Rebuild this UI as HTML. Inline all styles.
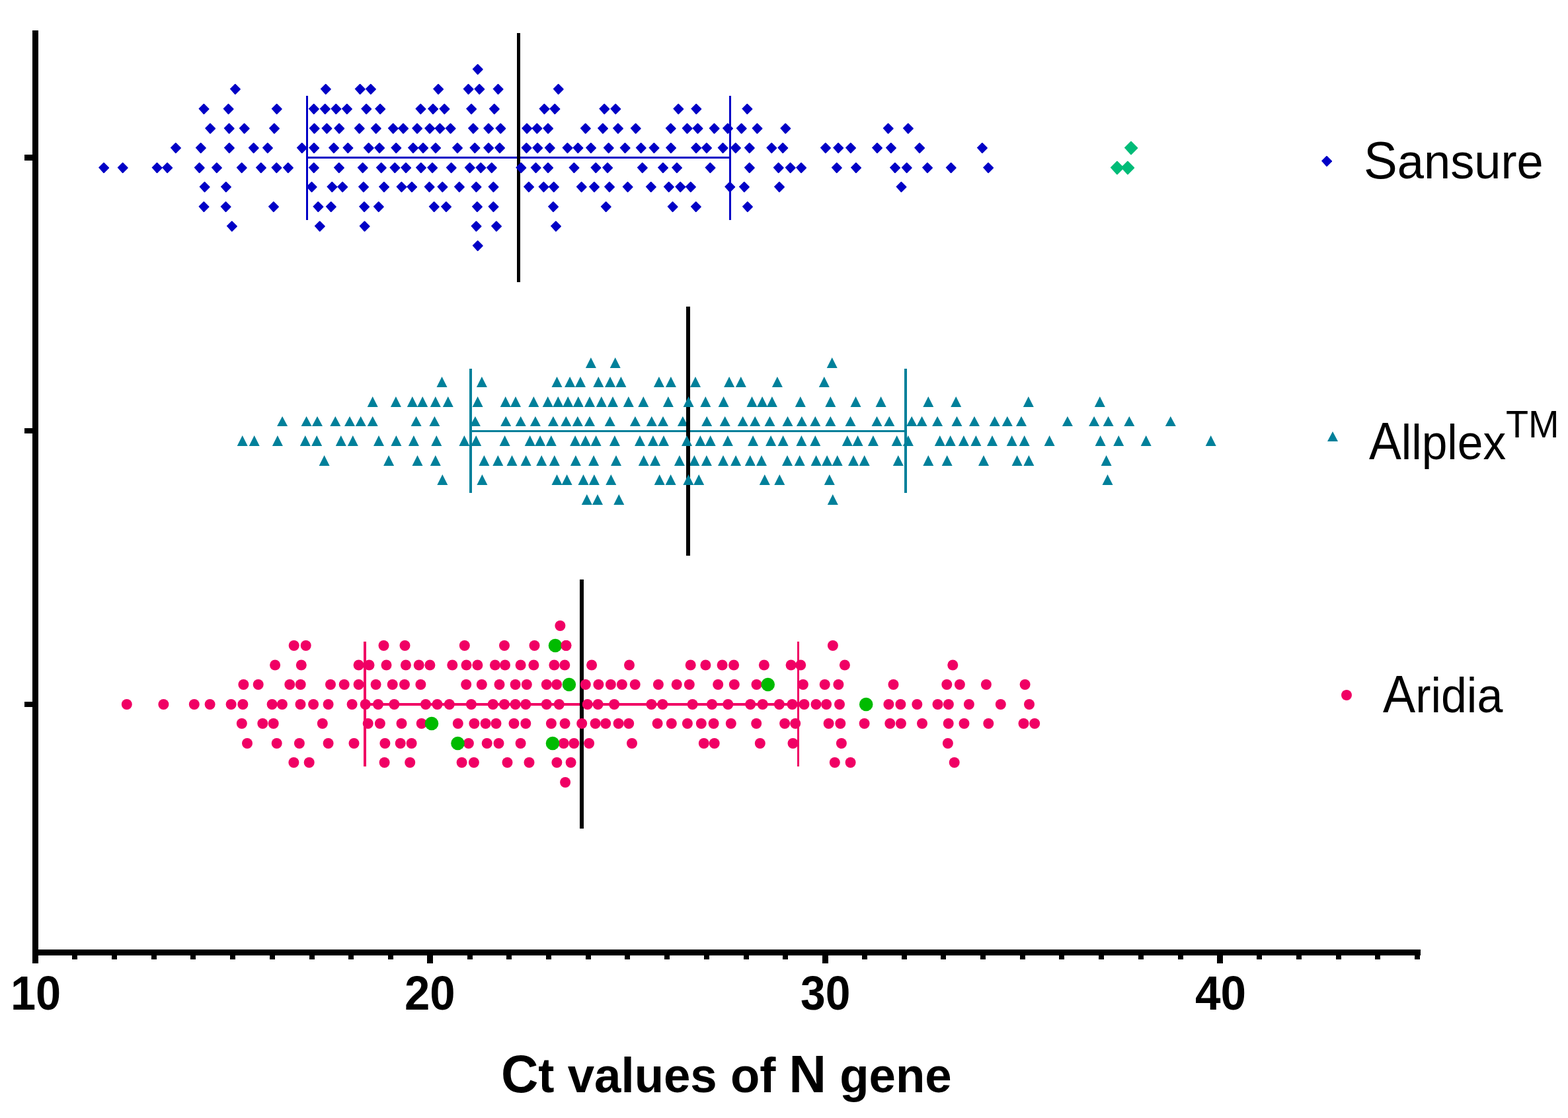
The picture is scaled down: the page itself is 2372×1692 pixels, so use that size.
<!DOCTYPE html>
<html lang="en">
<head>
<meta charset="utf-8">
<title>Ct values of N gene</title>
<style>
html,body{margin:0;padding:0;background:#fff}
body{position:relative;width:2372px;height:1692px;overflow:hidden}
svg{display:block;position:absolute;left:0;top:0}
.t{position:absolute;margin:0;white-space:pre;font-kerning:none;line-height:100px;transform-origin:0 0;color:#000;font-family:"Liberation Sans",Arial,Helvetica,sans-serif;font-weight:400}
.b{font-weight:700}
.c::first-letter,.k{font-size:79px}
</style>
</head>
<body>
<svg width="2372" height="1692" viewBox="0 0 2372 1692">
<rect width="2372" height="1692" fill="#fff"/>
<g shape-rendering="crispEdges">
<g fill="#0000C6">
<rect x="463" y="237" width="643" height="3"/>
<rect x="463" y="145" width="3" height="188"/>
<rect x="1103" y="145" width="3" height="188"/>
</g>
<g fill="#00809A">
<rect x="710" y="651" width="662" height="3"/>
<rect x="710" y="558" width="4" height="188"/>
<rect x="1368" y="558" width="4" height="188"/>
</g>
<g fill="#F00064">
<rect x="550" y="1064" width="659" height="4"/>
<rect x="550" y="971" width="4" height="189"/>
<rect x="1206" y="971" width="3" height="189"/>
</g>
</g>
<path fill="#00809A" d="M1032.9 630l8 15l-16 0zM1050.4 689l8 16l-16 0z"/>
<g shape-rendering="crispEdges" fill="#000">
<rect x="782" y="50" width="5" height="377"/>
<rect x="1038" y="464" width="6" height="377"/>
<rect x="877" y="877" width="6" height="377"/>
</g>
<path fill="#0000C6" d="M347.8 134.5l7.5 -7.5h1l7.5 7.5v1l-7.5 7.5h-1zM484.7 134.5l7.5 -7.5h1l7.5 7.5v1l-7.5 7.5h-1zM536.6 134.5l7.5 -7.5h1l7.5 7.5v1l-7.5 7.5h-1zM552.8 134.5l7.5 -7.5h1l7.5 7.5v1l-7.5 7.5h-1zM300.4 164.4l7.5 -7.5h1l7.5 7.5v1l-7.5 7.5h-1zM337.5 164.4l7.5 -7.5h1l7.5 7.5v1l-7.5 7.5h-1zM410.6 164.4l7.5 -7.5h1l7.5 7.5v1l-7.5 7.5h-1zM466.7 164.4l7.5 -7.5h1l7.5 7.5v1l-7.5 7.5h-1zM483.7 164.4l7.5 -7.5h1l7.5 7.5v1l-7.5 7.5h-1zM500.3 164.4l7.5 -7.5h1l7.5 7.5v1l-7.5 7.5h-1zM516.8 164.4l7.5 -7.5h1l7.5 7.5v1l-7.5 7.5h-1zM546.1 164.4l7.5 -7.5h1l7.5 7.5v1l-7.5 7.5h-1zM310 194l7.5 -7.5h1l7.5 7.5v1l-7.5 7.5h-1zM338.6 194l7.5 -7.5h1l7.5 7.5v1l-7.5 7.5h-1zM361.6 194l7.5 -7.5h1l7.5 7.5v1l-7.5 7.5h-1zM406.9 194l7.5 -7.5h1l7.5 7.5v1l-7.5 7.5h-1zM467.5 194l7.5 -7.5h1l7.5 7.5v1l-7.5 7.5h-1zM486.3 194l7.5 -7.5h1l7.5 7.5v1l-7.5 7.5h-1zM505.1 194l7.5 -7.5h1l7.5 7.5v1l-7.5 7.5h-1zM535.6 194l7.5 -7.5h1l7.5 7.5v1l-7.5 7.5h-1zM257.8 223.5l7.5 -7.5h1l7.5 7.5v1l-7.5 7.5h-1zM295.7 223.5l7.5 -7.5h1l7.5 7.5v1l-7.5 7.5h-1zM338.8 223.5l7.5 -7.5h1l7.5 7.5v1l-7.5 7.5h-1zM375.6 223.5l7.5 -7.5h1l7.5 7.5v1l-7.5 7.5h-1zM396.8 223.5l7.5 -7.5h1l7.5 7.5v1l-7.5 7.5h-1zM448.7 223.5l7.5 -7.5h1l7.5 7.5v1l-7.5 7.5h-1zM467 223.5l7.5 -7.5h1l7.5 7.5v1l-7.5 7.5h-1zM496.9 223.5l7.5 -7.5h1l7.5 7.5v1l-7.5 7.5h-1zM518.3 223.5l7.5 -7.5h1l7.5 7.5v1l-7.5 7.5h-1zM549.6 223.5l7.5 -7.5h1l7.5 7.5v1l-7.5 7.5h-1zM149 253.5l7.5 -7.5h1l7.5 7.5v1l-7.5 7.5h-1zM177.6 253.5l7.5 -7.5h1l7.5 7.5v1l-7.5 7.5h-1zM229.5 253.5l7.5 -7.5h1l7.5 7.5v1l-7.5 7.5h-1zM245.1 253.5l7.5 -7.5h1l7.5 7.5v1l-7.5 7.5h-1zM293.6 253.5l7.5 -7.5h1l7.5 7.5v1l-7.5 7.5h-1zM319.8 253.5l7.5 -7.5h1l7.5 7.5v1l-7.5 7.5h-1zM357.6 253.5l7.5 -7.5h1l7.5 7.5v1l-7.5 7.5h-1zM386.8 253.5l7.5 -7.5h1l7.5 7.5v1l-7.5 7.5h-1zM410.3 253.5l7.5 -7.5h1l7.5 7.5v1l-7.5 7.5h-1zM427.8 253.5l7.5 -7.5h1l7.5 7.5v1l-7.5 7.5h-1zM466.7 253.5l7.5 -7.5h1l7.5 7.5v1l-7.5 7.5h-1zM504.8 253.5l7.5 -7.5h1l7.5 7.5v1l-7.5 7.5h-1zM540.6 253.5l7.5 -7.5h1l7.5 7.5v1l-7.5 7.5h-1zM301.5 282.5l7.5 -7.5h1l7.5 7.5v1l-7.5 7.5h-1zM333.8 282.5l7.5 -7.5h1l7.5 7.5v1l-7.5 7.5h-1zM463.5 282.5l7.5 -7.5h1l7.5 7.5v1l-7.5 7.5h-1zM494.3 282.5l7.5 -7.5h1l7.5 7.5v1l-7.5 7.5h-1zM510.1 282.5l7.5 -7.5h1l7.5 7.5v1l-7.5 7.5h-1zM541.9 282.5l7.5 -7.5h1l7.5 7.5v1l-7.5 7.5h-1zM300.4 312.5l7.5 -7.5h1l7.5 7.5v1l-7.5 7.5h-1zM333.5 312.5l7.5 -7.5h1l7.5 7.5v1l-7.5 7.5h-1zM405.8 312.5l7.5 -7.5h1l7.5 7.5v1l-7.5 7.5h-1zM473.3 312.5l7.5 -7.5h1l7.5 7.5v1l-7.5 7.5h-1zM492.7 312.5l7.5 -7.5h1l7.5 7.5v1l-7.5 7.5h-1zM543 312.5l7.5 -7.5h1l7.5 7.5v1l-7.5 7.5h-1zM342.8 341.9l7.5 -7.5h1l7.5 7.5v1l-7.5 7.5h-1zM475.7 341.9l7.5 -7.5h1l7.5 7.5v1l-7.5 7.5h-1zM543.5 341.9l7.5 -7.5h1l7.5 7.5v1l-7.5 7.5h-1zM714.6 104.5l7.5 -7.5h1l7.5 7.5v1l-7.5 7.5h-1zM655 134.5l7.5 -7.5h1l7.5 7.5v1l-7.5 7.5h-1zM700.5 134.5l7.5 -7.5h1l7.5 7.5v1l-7.5 7.5h-1zM717.2 134.5l7.5 -7.5h1l7.5 7.5v1l-7.5 7.5h-1zM745.5 134.5l7.5 -7.5h1l7.5 7.5v1l-7.5 7.5h-1zM836.6 134.5l7.5 -7.5h1l7.5 7.5v1l-7.5 7.5h-1zM567.1 164.4l7.5 -7.5h1l7.5 7.5v1l-7.5 7.5h-1zM628.3 164.4l7.5 -7.5h1l7.5 7.5v1l-7.5 7.5h-1zM647 164.4l7.5 -7.5h1l7.5 7.5v1l-7.5 7.5h-1zM664.3 164.4l7.5 -7.5h1l7.5 7.5v1l-7.5 7.5h-1zM705 164.4l7.5 -7.5h1l7.5 7.5v1l-7.5 7.5h-1zM739.7 164.4l7.5 -7.5h1l7.5 7.5v1l-7.5 7.5h-1zM815.4 164.4l7.5 -7.5h1l7.5 7.5v1l-7.5 7.5h-1zM831.3 164.4l7.5 -7.5h1l7.5 7.5v1l-7.5 7.5h-1zM906.2 164.4l7.5 -7.5h1l7.5 7.5v1l-7.5 7.5h-1zM923.2 164.4l7.5 -7.5h1l7.5 7.5v1l-7.5 7.5h-1zM1018.2 164.4l7.5 -7.5h1l7.5 7.5v1l-7.5 7.5h-1zM1045.2 164.4l7.5 -7.5h1l7.5 7.5v1l-7.5 7.5h-1zM1122.3 164.4l7.5 -7.5h1l7.5 7.5v1l-7.5 7.5h-1zM560.7 194l7.5 -7.5h1l7.5 7.5v1l-7.5 7.5h-1zM586.7 194l7.5 -7.5h1l7.5 7.5v1l-7.5 7.5h-1zM602 194l7.5 -7.5h1l7.5 7.5v1l-7.5 7.5h-1zM623 194l7.5 -7.5h1l7.5 7.5v1l-7.5 7.5h-1zM642 194l7.5 -7.5h1l7.5 7.5v1l-7.5 7.5h-1zM657.4 194l7.5 -7.5h1l7.5 7.5v1l-7.5 7.5h-1zM673.5 194l7.5 -7.5h1l7.5 7.5v1l-7.5 7.5h-1zM707.9 194l7.5 -7.5h1l7.5 7.5v1l-7.5 7.5h-1zM731 194l7.5 -7.5h1l7.5 7.5v1l-7.5 7.5h-1zM749.2 194l7.5 -7.5h1l7.5 7.5v1l-7.5 7.5h-1zM789 194l7.5 -7.5h1l7.5 7.5v1l-7.5 7.5h-1zM804.3 194l7.5 -7.5h1l7.5 7.5v1l-7.5 7.5h-1zM821 194l7.5 -7.5h1l7.5 7.5v1l-7.5 7.5h-1zM877.7 194l7.5 -7.5h1l7.5 7.5v1l-7.5 7.5h-1zM903.9 194l7.5 -7.5h1l7.5 7.5v1l-7.5 7.5h-1zM926.9 194l7.5 -7.5h1l7.5 7.5v1l-7.5 7.5h-1zM953.6 194l7.5 -7.5h1l7.5 7.5v1l-7.5 7.5h-1zM1006.6 194l7.5 -7.5h1l7.5 7.5v1l-7.5 7.5h-1zM1031.5 194l7.5 -7.5h1l7.5 7.5v1l-7.5 7.5h-1zM1047.4 194l7.5 -7.5h1l7.5 7.5v1l-7.5 7.5h-1zM1072.5 194l7.5 -7.5h1l7.5 7.5v1l-7.5 7.5h-1zM1092.9 194l7.5 -7.5h1l7.5 7.5v1l-7.5 7.5h-1zM1113.6 194l7.5 -7.5h1l7.5 7.5v1l-7.5 7.5h-1zM1137.4 194l7.5 -7.5h1l7.5 7.5v1l-7.5 7.5h-1zM566 223.5l7.5 -7.5h1l7.5 7.5v1l-7.5 7.5h-1zM591.2 223.5l7.5 -7.5h1l7.5 7.5v1l-7.5 7.5h-1zM616.9 223.5l7.5 -7.5h1l7.5 7.5v1l-7.5 7.5h-1zM632 223.5l7.5 -7.5h1l7.5 7.5v1l-7.5 7.5h-1zM651 223.5l7.5 -7.5h1l7.5 7.5v1l-7.5 7.5h-1zM683.9 223.5l7.5 -7.5h1l7.5 7.5v1l-7.5 7.5h-1zM710.3 223.5l7.5 -7.5h1l7.5 7.5v1l-7.5 7.5h-1zM731 223.5l7.5 -7.5h1l7.5 7.5v1l-7.5 7.5h-1zM747.9 223.5l7.5 -7.5h1l7.5 7.5v1l-7.5 7.5h-1zM788.4 223.5l7.5 -7.5h1l7.5 7.5v1l-7.5 7.5h-1zM805.1 223.5l7.5 -7.5h1l7.5 7.5v1l-7.5 7.5h-1zM823.6 223.5l7.5 -7.5h1l7.5 7.5v1l-7.5 7.5h-1zM850.4 223.5l7.5 -7.5h1l7.5 7.5v1l-7.5 7.5h-1zM866.3 223.5l7.5 -7.5h1l7.5 7.5v1l-7.5 7.5h-1zM885.9 223.5l7.5 -7.5h1l7.5 7.5v1l-7.5 7.5h-1zM912.6 223.5l7.5 -7.5h1l7.5 7.5v1l-7.5 7.5h-1zM937.5 223.5l7.5 -7.5h1l7.5 7.5v1l-7.5 7.5h-1zM961.6 223.5l7.5 -7.5h1l7.5 7.5v1l-7.5 7.5h-1zM981.4 223.5l7.5 -7.5h1l7.5 7.5v1l-7.5 7.5h-1zM1006.9 223.5l7.5 -7.5h1l7.5 7.5v1l-7.5 7.5h-1zM1045 223.5l7.5 -7.5h1l7.5 7.5v1l-7.5 7.5h-1zM1060.9 223.5l7.5 -7.5h1l7.5 7.5v1l-7.5 7.5h-1zM1085.5 223.5l7.5 -7.5h1l7.5 7.5v1l-7.5 7.5h-1zM1104.8 223.5l7.5 -7.5h1l7.5 7.5v1l-7.5 7.5h-1zM1125.7 223.5l7.5 -7.5h1l7.5 7.5v1l-7.5 7.5h-1zM568.7 253.5l7.5 -7.5h1l7.5 7.5v1l-7.5 7.5h-1zM589.3 253.5l7.5 -7.5h1l7.5 7.5v1l-7.5 7.5h-1zM606 253.5l7.5 -7.5h1l7.5 7.5v1l-7.5 7.5h-1zM628.8 253.5l7.5 -7.5h1l7.5 7.5v1l-7.5 7.5h-1zM646 253.5l7.5 -7.5h1l7.5 7.5v1l-7.5 7.5h-1zM674.6 253.5l7.5 -7.5h1l7.5 7.5v1l-7.5 7.5h-1zM702.6 253.5l7.5 -7.5h1l7.5 7.5v1l-7.5 7.5h-1zM719.3 253.5l7.5 -7.5h1l7.5 7.5v1l-7.5 7.5h-1zM735.7 253.5l7.5 -7.5h1l7.5 7.5v1l-7.5 7.5h-1zM780.2 253.5l7.5 -7.5h1l7.5 7.5v1l-7.5 7.5h-1zM802.5 253.5l7.5 -7.5h1l7.5 7.5v1l-7.5 7.5h-1zM821 253.5l7.5 -7.5h1l7.5 7.5v1l-7.5 7.5h-1zM860.4 253.5l7.5 -7.5h1l7.5 7.5v1l-7.5 7.5h-1zM893.3 253.5l7.5 -7.5h1l7.5 7.5v1l-7.5 7.5h-1zM911 253.5l7.5 -7.5h1l7.5 7.5v1l-7.5 7.5h-1zM963.7 253.5l7.5 -7.5h1l7.5 7.5v1l-7.5 7.5h-1zM994.9 253.5l7.5 -7.5h1l7.5 7.5v1l-7.5 7.5h-1zM1015.9 253.5l7.5 -7.5h1l7.5 7.5v1l-7.5 7.5h-1zM1066.4 253.5l7.5 -7.5h1l7.5 7.5v1l-7.5 7.5h-1zM1125.7 253.5l7.5 -7.5h1l7.5 7.5v1l-7.5 7.5h-1zM572.9 282.5l7.5 -7.5h1l7.5 7.5v1l-7.5 7.5h-1zM599.4 282.5l7.5 -7.5h1l7.5 7.5v1l-7.5 7.5h-1zM615 282.5l7.5 -7.5h1l7.5 7.5v1l-7.5 7.5h-1zM641.5 282.5l7.5 -7.5h1l7.5 7.5v1l-7.5 7.5h-1zM661.3 282.5l7.5 -7.5h1l7.5 7.5v1l-7.5 7.5h-1zM686.8 282.5l7.5 -7.5h1l7.5 7.5v1l-7.5 7.5h-1zM712.4 282.5l7.5 -7.5h1l7.5 7.5v1l-7.5 7.5h-1zM738.4 282.5l7.5 -7.5h1l7.5 7.5v1l-7.5 7.5h-1zM791.9 282.5l7.5 -7.5h1l7.5 7.5v1l-7.5 7.5h-1zM814.4 282.5l7.5 -7.5h1l7.5 7.5v1l-7.5 7.5h-1zM829.7 282.5l7.5 -7.5h1l7.5 7.5v1l-7.5 7.5h-1zM871.6 282.5l7.5 -7.5h1l7.5 7.5v1l-7.5 7.5h-1zM890.9 282.5l7.5 -7.5h1l7.5 7.5v1l-7.5 7.5h-1zM913.9 282.5l7.5 -7.5h1l7.5 7.5v1l-7.5 7.5h-1zM941.5 282.5l7.5 -7.5h1l7.5 7.5v1l-7.5 7.5h-1zM976.7 282.5l7.5 -7.5h1l7.5 7.5v1l-7.5 7.5h-1zM1003.7 282.5l7.5 -7.5h1l7.5 7.5v1l-7.5 7.5h-1zM1021.2 282.5l7.5 -7.5h1l7.5 7.5v1l-7.5 7.5h-1zM1036.8 282.5l7.5 -7.5h1l7.5 7.5v1l-7.5 7.5h-1zM1096.1 282.5l7.5 -7.5h1l7.5 7.5v1l-7.5 7.5h-1zM1117.8 282.5l7.5 -7.5h1l7.5 7.5v1l-7.5 7.5h-1zM564.7 312.5l7.5 -7.5h1l7.5 7.5v1l-7.5 7.5h-1zM648.6 312.5l7.5 -7.5h1l7.5 7.5v1l-7.5 7.5h-1zM666.9 312.5l7.5 -7.5h1l7.5 7.5v1l-7.5 7.5h-1zM713.8 312.5l7.5 -7.5h1l7.5 7.5v1l-7.5 7.5h-1zM738.4 312.5l7.5 -7.5h1l7.5 7.5v1l-7.5 7.5h-1zM828.9 312.5l7.5 -7.5h1l7.5 7.5v1l-7.5 7.5h-1zM908.6 312.5l7.5 -7.5h1l7.5 7.5v1l-7.5 7.5h-1zM1009.5 312.5l7.5 -7.5h1l7.5 7.5v1l-7.5 7.5h-1zM1044.7 312.5l7.5 -7.5h1l7.5 7.5v1l-7.5 7.5h-1zM1122.8 312.5l7.5 -7.5h1l7.5 7.5v1l-7.5 7.5h-1zM712.4 341.9l7.5 -7.5h1l7.5 7.5v1l-7.5 7.5h-1zM742.9 341.9l7.5 -7.5h1l7.5 7.5v1l-7.5 7.5h-1zM832.9 341.9l7.5 -7.5h1l7.5 7.5v1l-7.5 7.5h-1zM714.6 371.4l7.5 -7.5h1l7.5 7.5v1l-7.5 7.5h-1zM1180.2 194l7.5 -7.5h1l7.5 7.5v1l-7.5 7.5h-1zM1335.6 194l7.5 -7.5h1l7.5 7.5v1l-7.5 7.5h-1zM1365.8 194l7.5 -7.5h1l7.5 7.5v1l-7.5 7.5h-1zM1159.2 223.5l7.5 -7.5h1l7.5 7.5v1l-7.5 7.5h-1zM1176.2 223.5l7.5 -7.5h1l7.5 7.5v1l-7.5 7.5h-1zM1240.8 223.5l7.5 -7.5h1l7.5 7.5v1l-7.5 7.5h-1zM1260.1 223.5l7.5 -7.5h1l7.5 7.5v1l-7.5 7.5h-1zM1278.9 223.5l7.5 -7.5h1l7.5 7.5v1l-7.5 7.5h-1zM1318.9 223.5l7.5 -7.5h1l7.5 7.5v1l-7.5 7.5h-1zM1339.8 223.5l7.5 -7.5h1l7.5 7.5v1l-7.5 7.5h-1zM1383 223.5l7.5 -7.5h1l7.5 7.5v1l-7.5 7.5h-1zM1477.8 223.5l7.5 -7.5h1l7.5 7.5v1l-7.5 7.5h-1zM1169.6 253.5l7.5 -7.5h1l7.5 7.5v1l-7.5 7.5h-1zM1187.6 253.5l7.5 -7.5h1l7.5 7.5v1l-7.5 7.5h-1zM1204 253.5l7.5 -7.5h1l7.5 7.5v1l-7.5 7.5h-1zM1257.7 253.5l7.5 -7.5h1l7.5 7.5v1l-7.5 7.5h-1zM1286.9 253.5l7.5 -7.5h1l7.5 7.5v1l-7.5 7.5h-1zM1345.9 253.5l7.5 -7.5h1l7.5 7.5v1l-7.5 7.5h-1zM1363.6 253.5l7.5 -7.5h1l7.5 7.5v1l-7.5 7.5h-1zM1394.9 253.5l7.5 -7.5h1l7.5 7.5v1l-7.5 7.5h-1zM1430.6 253.5l7.5 -7.5h1l7.5 7.5v1l-7.5 7.5h-1zM1487 253.5l7.5 -7.5h1l7.5 7.5v1l-7.5 7.5h-1zM1170.9 282.5l7.5 -7.5h1l7.5 7.5v1l-7.5 7.5h-1zM1355.4 282.5l7.5 -7.5h1l7.5 7.5v1l-7.5 7.5h-1z"/>
<path fill="#00BC78" d="M1700.8 223.5l9.7 -9.7h1l9.7 9.7v1l-9.7 9.7h-1zM1679.7 253.5l9.7 -9.7h1l9.7 9.7v1l-9.7 9.7h-1zM1695.7 253.5l9.7 -9.7h1l9.7 9.7v1l-9.7 9.7h-1z"/>
<path fill="#00809A" d="M668.5 570l8 16l-16 0zM728.9 570l8 16l-16 0zM842.5 570l8 16l-16 0zM563.7 600l8 16l-16 0zM598.9 600l8 16l-16 0zM623.8 600l8 16l-16 0zM639.2 600l8 16l-16 0zM658.8 600l8 16l-16 0zM677.8 600l8 16l-16 0zM722.6 600l8 16l-16 0zM764.7 600l8 16l-16 0zM780 600l8 16l-16 0zM807.3 600l8 16l-16 0zM828.7 600l8 16l-16 0zM844.3 600l8 16l-16 0zM427.1 630l8 15l-16 0zM463.6 630l8 15l-16 0zM480 630l8 15l-16 0zM507.3 630l8 15l-16 0zM529 630l8 15l-16 0zM545.7 630l8 15l-16 0zM563.7 630l8 15l-16 0zM629.6 630l8 15l-16 0zM657.4 630l8 15l-16 0zM718.9 630l8 15l-16 0zM765.2 630l8 15l-16 0zM787.7 630l8 15l-16 0zM809.9 630l8 15l-16 0zM836.9 630l8 15l-16 0zM856.3 630l8 15l-16 0zM366.7 659l8 16l-16 0zM384.7 659l8 16l-16 0zM419.9 659l8 16l-16 0zM461.8 659l8 16l-16 0zM479.2 659l8 16l-16 0zM515.8 659l8 16l-16 0zM533.8 659l8 16l-16 0zM573 659l8 16l-16 0zM599.4 659l8 16l-16 0zM625.9 659l8 16l-16 0zM660.3 659l8 16l-16 0zM702.4 659l8 16l-16 0zM720.2 659l8 16l-16 0zM763.6 659l8 16l-16 0zM801.7 659l8 16l-16 0zM817.1 659l8 16l-16 0zM833.8 659l8 16l-16 0zM490.6 689l8 16l-16 0zM588.1 689l8 16l-16 0zM631.5 689l8 16l-16 0zM658.8 689l8 16l-16 0zM732.4 689l8 16l-16 0zM753.3 689l8 16l-16 0zM774.5 689l8 16l-16 0zM795.6 689l8 16l-16 0zM819.2 689l8 16l-16 0zM838.8 689l8 16l-16 0zM669.3 718l8 16l-16 0zM729.4 718l8 16l-16 0zM842.5 718l8 16l-16 0zM857.6 718l8 16l-16 0zM893.9 541l8 16l-16 0zM930.7 541l8 16l-16 0zM1258.7 541l8 16l-16 0zM862.1 570l8 16l-16 0zM878 570l8 16l-16 0zM905.3 570l8 16l-16 0zM923 570l8 16l-16 0zM939.4 570l8 16l-16 0zM996.9 570l8 16l-16 0zM1014.9 570l8 16l-16 0zM1052 570l8 16l-16 0zM1103.1 570l8 16l-16 0zM1120.8 570l8 16l-16 0zM1175.9 570l8 16l-16 0zM1246.8 570l8 16l-16 0zM859.2 600l8 16l-16 0zM874.8 600l8 16l-16 0zM892 600l8 16l-16 0zM909.8 600l8 16l-16 0zM927 600l8 16l-16 0zM950.8 600l8 16l-16 0zM973.3 600l8 16l-16 0zM1010.9 600l8 16l-16 0zM1041.6 600l8 16l-16 0zM1067.3 600l8 16l-16 0zM1094.6 600l8 16l-16 0zM1137.5 600l8 16l-16 0zM1153.1 600l8 16l-16 0zM1167.9 600l8 16l-16 0zM1210.8 600l8 16l-16 0zM1256.3 600l8 16l-16 0zM1294.5 600l8 16l-16 0zM1332.6 600l8 16l-16 0zM1404.3 600l8 16l-16 0zM1446.2 600l8 16l-16 0zM873.8 630l8 15l-16 0zM892 630l8 15l-16 0zM922.7 630l8 15l-16 0zM960.9 630l8 15l-16 0zM985.8 630l8 15l-16 0zM1003 630l8 15l-16 0zM1069.2 630l8 15l-16 0zM1096.7 630l8 15l-16 0zM1123.7 630l8 15l-16 0zM1142.2 630l8 15l-16 0zM1164.5 630l8 15l-16 0zM1191.5 630l8 15l-16 0zM1212.9 630l8 15l-16 0zM1233.3 630l8 15l-16 0zM1256.3 630l8 15l-16 0zM1286.5 630l8 15l-16 0zM1326.5 630l8 15l-16 0zM1345.3 630l8 15l-16 0zM1379.2 630l8 15l-16 0zM1394.6 630l8 15l-16 0zM1418.1 630l8 15l-16 0zM1447.5 630l8 15l-16 0zM870.1 659l8 16l-16 0zM885.7 659l8 16l-16 0zM901.6 659l8 16l-16 0zM929.9 659l8 16l-16 0zM968 659l8 16l-16 0zM987.9 659l8 16l-16 0zM1004 659l8 16l-16 0zM1039 659l8 16l-16 0zM1059.4 659l8 16l-16 0zM1074.7 659l8 16l-16 0zM1100.9 659l8 16l-16 0zM1139.1 659l8 16l-16 0zM1166.1 659l8 16l-16 0zM1184.6 659l8 16l-16 0zM1212.4 659l8 16l-16 0zM1233.3 659l8 16l-16 0zM1281.8 659l8 16l-16 0zM1297.6 659l8 16l-16 0zM1320.9 659l8 16l-16 0zM1356.7 659l8 16l-16 0zM1373.9 659l8 16l-16 0zM1421.8 659l8 16l-16 0zM1437.7 659l8 16l-16 0zM870.9 689l8 16l-16 0zM898.1 689l8 16l-16 0zM932 689l8 16l-16 0zM973.8 689l8 16l-16 0zM991.1 689l8 16l-16 0zM1027.9 689l8 16l-16 0zM1068.9 689l8 16l-16 0zM1094 689l8 16l-16 0zM1113.1 689l8 16l-16 0zM1134.8 689l8 16l-16 0zM1152 689l8 16l-16 0zM1191 689l8 16l-16 0zM1209.7 689l8 16l-16 0zM1234.6 689l8 16l-16 0zM1251.1 689l8 16l-16 0zM1266.7 689l8 16l-16 0zM1291 689l8 16l-16 0zM1307.7 689l8 16l-16 0zM1358.8 689l8 16l-16 0zM1404.3 689l8 16l-16 0zM1432.7 689l8 16l-16 0zM882.5 718l8 16l-16 0zM898.9 718l8 16l-16 0zM924.3 718l8 16l-16 0zM997.7 718l8 16l-16 0zM1014.6 718l8 16l-16 0zM1041.4 718l8 16l-16 0zM1057.2 718l8 16l-16 0zM1156.8 718l8 16l-16 0zM1179.3 718l8 16l-16 0zM1254.8 718l8 16l-16 0zM887.8 748l8 16l-16 0zM904 748l8 16l-16 0zM936.3 748l8 16l-16 0zM1259.8 748l8 16l-16 0zM1555.8 600l8 16l-16 0zM1663.8 600l8 16l-16 0zM1474 630l8 15l-16 0zM1504.7 630l8 15l-16 0zM1523.8 630l8 15l-16 0zM1545 630l8 15l-16 0zM1614.9 630l8 15l-16 0zM1655.1 630l8 15l-16 0zM1676.6 630l8 15l-16 0zM1708.3 630l8 15l-16 0zM1770.8 630l8 15l-16 0zM1457.9 659l8 16l-16 0zM1476.4 659l8 16l-16 0zM1501 659l8 16l-16 0zM1530.7 659l8 16l-16 0zM1549.7 659l8 16l-16 0zM1587.6 659l8 16l-16 0zM1664.6 659l8 16l-16 0zM1692.2 659l8 16l-16 0zM1733.7 659l8 16l-16 0zM1831.7 659l8 16l-16 0zM1488 689l8 16l-16 0zM1538.6 689l8 16l-16 0zM1556.4 689l8 16l-16 0zM1673.6 689l8 16l-16 0zM1675.5 718l8 16l-16 0z"/>
<g fill="#F00064">
<circle cx="444.7" cy="977" r="8"/>
<circle cx="462.7" cy="977" r="8"/>
<circle cx="580.5" cy="977" r="8"/>
<circle cx="612.5" cy="977" r="8"/>
<circle cx="702.8" cy="977" r="8"/>
<circle cx="416.1" cy="1006.5" r="8"/>
<circle cx="455.8" cy="1006.5" r="8"/>
<circle cx="542.6" cy="1006.5" r="8"/>
<circle cx="558.5" cy="1006.5" r="8"/>
<circle cx="584.5" cy="1006.5" r="8"/>
<circle cx="613.9" cy="1006.5" r="8"/>
<circle cx="633.7" cy="1006.5" r="8"/>
<circle cx="650.4" cy="1006.5" r="8"/>
<circle cx="684.3" cy="1006.5" r="8"/>
<circle cx="705.5" cy="1006.5" r="8"/>
<circle cx="368.4" cy="1036" r="8"/>
<circle cx="390.7" cy="1036" r="8"/>
<circle cx="438.3" cy="1036" r="8"/>
<circle cx="454.7" cy="1036" r="8"/>
<circle cx="500" cy="1036" r="8"/>
<circle cx="520.7" cy="1036" r="8"/>
<circle cx="542.6" cy="1036" r="8"/>
<circle cx="568.6" cy="1036" r="8"/>
<circle cx="593.7" cy="1036" r="8"/>
<circle cx="612" cy="1036" r="8"/>
<circle cx="636.4" cy="1036" r="8"/>
<circle cx="705.2" cy="1036" r="8"/>
<circle cx="191.8" cy="1066" r="8"/>
<circle cx="247.4" cy="1066" r="8"/>
<circle cx="293.8" cy="1066" r="8"/>
<circle cx="317.6" cy="1066" r="8"/>
<circle cx="349.6" cy="1066" r="8"/>
<circle cx="367.4" cy="1066" r="8"/>
<circle cx="411.6" cy="1066" r="8"/>
<circle cx="426.9" cy="1066" r="8"/>
<circle cx="454.5" cy="1066" r="8"/>
<circle cx="474.1" cy="1066" r="8"/>
<circle cx="496.6" cy="1066" r="8"/>
<circle cx="532.6" cy="1066" r="8"/>
<circle cx="552.7" cy="1066" r="8"/>
<circle cx="572" cy="1066" r="8"/>
<circle cx="596.4" cy="1066" r="8"/>
<circle cx="644" cy="1066" r="8"/>
<circle cx="661.5" cy="1066" r="8"/>
<circle cx="679.8" cy="1066" r="8"/>
<circle cx="365.8" cy="1095" r="8"/>
<circle cx="397.3" cy="1095" r="8"/>
<circle cx="413.7" cy="1095" r="8"/>
<circle cx="487.8" cy="1095" r="8"/>
<circle cx="556.7" cy="1095" r="8"/>
<circle cx="574.9" cy="1095" r="8"/>
<circle cx="607.5" cy="1095" r="8"/>
<circle cx="637.7" cy="1095" r="8"/>
<circle cx="692.8" cy="1095" r="8"/>
<circle cx="374" cy="1125" r="8"/>
<circle cx="418.7" cy="1125" r="8"/>
<circle cx="452.9" cy="1125" r="8"/>
<circle cx="496.6" cy="1125" r="8"/>
<circle cx="535.5" cy="1125" r="8"/>
<circle cx="582.4" cy="1125" r="8"/>
<circle cx="605.7" cy="1125" r="8"/>
<circle cx="622.6" cy="1125" r="8"/>
<circle cx="708.9" cy="1125" r="8"/>
<circle cx="444.4" cy="1154" r="8"/>
<circle cx="467.7" cy="1154" r="8"/>
<circle cx="581.6" cy="1154" r="8"/>
<circle cx="620.2" cy="1154" r="8"/>
<circle cx="698.6" cy="1154" r="8"/>
<circle cx="847.4" cy="947" r="8"/>
<circle cx="763" cy="977" r="8"/>
<circle cx="808.5" cy="977" r="8"/>
<circle cx="856.4" cy="977" r="8"/>
<circle cx="1259.9" cy="977" r="8"/>
<circle cx="722.4" cy="1006.5" r="8"/>
<circle cx="748.9" cy="1006.5" r="8"/>
<circle cx="764" cy="1006.5" r="8"/>
<circle cx="787.6" cy="1006.5" r="8"/>
<circle cx="807.4" cy="1006.5" r="8"/>
<circle cx="838.4" cy="1006.5" r="8"/>
<circle cx="854.3" cy="1006.5" r="8"/>
<circle cx="895.1" cy="1006.5" r="8"/>
<circle cx="952" cy="1006.5" r="8"/>
<circle cx="1044.7" cy="1006.5" r="8"/>
<circle cx="1067.4" cy="1006.5" r="8"/>
<circle cx="1092.6" cy="1006.5" r="8"/>
<circle cx="1110.1" cy="1006.5" r="8"/>
<circle cx="1155.9" cy="1006.5" r="8"/>
<circle cx="1196.6" cy="1006.5" r="8"/>
<circle cx="1211.2" cy="1006.5" r="8"/>
<circle cx="1277.9" cy="1006.5" r="8"/>
<circle cx="728.8" cy="1036" r="8"/>
<circle cx="755.5" cy="1036" r="8"/>
<circle cx="779.6" cy="1036" r="8"/>
<circle cx="796.8" cy="1036" r="8"/>
<circle cx="826.8" cy="1036" r="8"/>
<circle cx="842.1" cy="1036" r="8"/>
<circle cx="885.8" cy="1036" r="8"/>
<circle cx="905.4" cy="1036" r="8"/>
<circle cx="923.9" cy="1036" r="8"/>
<circle cx="940.9" cy="1036" r="8"/>
<circle cx="960.7" cy="1036" r="8"/>
<circle cx="995.9" cy="1036" r="8"/>
<circle cx="1023.7" cy="1036" r="8"/>
<circle cx="1042.8" cy="1036" r="8"/>
<circle cx="1086.2" cy="1036" r="8"/>
<circle cx="1110.8" cy="1036" r="8"/>
<circle cx="1144.5" cy="1036" r="8"/>
<circle cx="1214.9" cy="1036" r="8"/>
<circle cx="1247.7" cy="1036" r="8"/>
<circle cx="1268.4" cy="1036" r="8"/>
<circle cx="712.9" cy="1066" r="8"/>
<circle cx="745.7" cy="1066" r="8"/>
<circle cx="763" cy="1066" r="8"/>
<circle cx="779.6" cy="1066" r="8"/>
<circle cx="795.3" cy="1066" r="8"/>
<circle cx="826.8" cy="1066" r="8"/>
<circle cx="845.8" cy="1066" r="8"/>
<circle cx="888.7" cy="1066" r="8"/>
<circle cx="904.6" cy="1066" r="8"/>
<circle cx="929.2" cy="1066" r="8"/>
<circle cx="985.4" cy="1066" r="8"/>
<circle cx="1002.3" cy="1066" r="8"/>
<circle cx="1047.6" cy="1066" r="8"/>
<circle cx="1077" cy="1066" r="8"/>
<circle cx="1101.3" cy="1066" r="8"/>
<circle cx="1135.2" cy="1066" r="8"/>
<circle cx="1153.7" cy="1066" r="8"/>
<circle cx="1178.9" cy="1066" r="8"/>
<circle cx="1198.5" cy="1066" r="8"/>
<circle cx="1216.5" cy="1066" r="8"/>
<circle cx="1234.5" cy="1066" r="8"/>
<circle cx="1250.1" cy="1066" r="8"/>
<circle cx="1270" cy="1066" r="8"/>
<circle cx="717.4" cy="1095" r="8"/>
<circle cx="734.6" cy="1095" r="8"/>
<circle cx="750.5" cy="1095" r="8"/>
<circle cx="777.5" cy="1095" r="8"/>
<circle cx="795.3" cy="1095" r="8"/>
<circle cx="833.9" cy="1095" r="8"/>
<circle cx="854.6" cy="1095" r="8"/>
<circle cx="880.2" cy="1095" r="8"/>
<circle cx="900.6" cy="1095" r="8"/>
<circle cx="916.2" cy="1095" r="8"/>
<circle cx="935.6" cy="1095" r="8"/>
<circle cx="951.2" cy="1095" r="8"/>
<circle cx="994.6" cy="1095" r="8"/>
<circle cx="1015.8" cy="1095" r="8"/>
<circle cx="1039.9" cy="1095" r="8"/>
<circle cx="1060.8" cy="1095" r="8"/>
<circle cx="1079.6" cy="1095" r="8"/>
<circle cx="1105.8" cy="1095" r="8"/>
<circle cx="1144.2" cy="1095" r="8"/>
<circle cx="1187.1" cy="1095" r="8"/>
<circle cx="1203.2" cy="1095" r="8"/>
<circle cx="1253.6" cy="1095" r="8"/>
<circle cx="1271.3" cy="1095" r="8"/>
<circle cx="736.7" cy="1125" r="8"/>
<circle cx="754.5" cy="1125" r="8"/>
<circle cx="787.6" cy="1125" r="8"/>
<circle cx="852.7" cy="1125" r="8"/>
<circle cx="868.3" cy="1125" r="8"/>
<circle cx="891.1" cy="1125" r="8"/>
<circle cx="956" cy="1125" r="8"/>
<circle cx="1064.8" cy="1125" r="8"/>
<circle cx="1080.7" cy="1125" r="8"/>
<circle cx="1149.8" cy="1125" r="8"/>
<circle cx="1199.5" cy="1125" r="8"/>
<circle cx="1272.9" cy="1125" r="8"/>
<circle cx="716.9" cy="1154" r="8"/>
<circle cx="767.5" cy="1154" r="8"/>
<circle cx="800.5" cy="1154" r="8"/>
<circle cx="842.4" cy="1154" r="8"/>
<circle cx="863.6" cy="1154" r="8"/>
<circle cx="1262.8" cy="1154" r="8"/>
<circle cx="1286.6" cy="1154" r="8"/>
<circle cx="855.1" cy="1184" r="8"/>
<circle cx="1441.3" cy="1006.5" r="8"/>
<circle cx="1351.5" cy="1036" r="8"/>
<circle cx="1432.3" cy="1036" r="8"/>
<circle cx="1451.9" cy="1036" r="8"/>
<circle cx="1491.9" cy="1036" r="8"/>
<circle cx="1550.6" cy="1036" r="8"/>
<circle cx="1344.4" cy="1066" r="8"/>
<circle cx="1362.4" cy="1066" r="8"/>
<circle cx="1387.3" cy="1066" r="8"/>
<circle cx="1418.5" cy="1066" r="8"/>
<circle cx="1434.9" cy="1066" r="8"/>
<circle cx="1465.9" cy="1066" r="8"/>
<circle cx="1513.8" cy="1066" r="8"/>
<circle cx="1557" cy="1066" r="8"/>
<circle cx="1307.6" cy="1095" r="8"/>
<circle cx="1346.3" cy="1095" r="8"/>
<circle cx="1362.9" cy="1095" r="8"/>
<circle cx="1395" cy="1095" r="8"/>
<circle cx="1434.7" cy="1095" r="8"/>
<circle cx="1458.5" cy="1095" r="8"/>
<circle cx="1495.3" cy="1095" r="8"/>
<circle cx="1548.5" cy="1095" r="8"/>
<circle cx="1565.2" cy="1095" r="8"/>
<circle cx="1433.9" cy="1125" r="8"/>
<circle cx="1443.7" cy="1154" r="8"/>
</g>
<g fill="#00BB00">
<circle cx="653" cy="1095" r="10.3"/>
<circle cx="692.5" cy="1125" r="10.3"/>
<circle cx="840" cy="977" r="10.3"/>
<circle cx="860.9" cy="1036" r="10.3"/>
<circle cx="1161.7" cy="1036" r="10.3"/>
<circle cx="836" cy="1125" r="10.3"/>
<circle cx="1310.2" cy="1066" r="10.3"/>
</g>
<circle cx="856.4" cy="977" r="8" fill="#F00064"/>
<g fill="#000" shape-rendering="crispEdges">
<rect x="49" y="46" width="9" height="1412"/>
<rect x="49" y="1437" width="2100" height="9"/>
<rect x="37" y="234" width="12" height="9"/>
<rect x="37" y="648" width="12" height="8"/>
<rect x="37" y="1062" width="12" height="8"/>
<rect x="109" y="1446" width="8" height="6"/>
<rect x="169" y="1446" width="8" height="6"/>
<rect x="229" y="1446" width="8" height="6"/>
<rect x="288" y="1446" width="8" height="6"/>
<rect x="348" y="1446" width="8" height="6"/>
<rect x="408" y="1446" width="8" height="6"/>
<rect x="468" y="1446" width="8" height="6"/>
<rect x="527" y="1446" width="8" height="6"/>
<rect x="587" y="1446" width="8" height="6"/>
<rect x="646" y="1446" width="9" height="12"/>
<rect x="707" y="1446" width="8" height="6"/>
<rect x="766" y="1446" width="8" height="6"/>
<rect x="826" y="1446" width="8" height="6"/>
<rect x="886" y="1446" width="8" height="6"/>
<rect x="945" y="1446" width="8" height="6"/>
<rect x="1005" y="1446" width="8" height="6"/>
<rect x="1065" y="1446" width="8" height="6"/>
<rect x="1125" y="1446" width="8" height="6"/>
<rect x="1184" y="1446" width="8" height="6"/>
<rect x="1244" y="1446" width="9" height="12"/>
<rect x="1304" y="1446" width="8" height="6"/>
<rect x="1364" y="1446" width="8" height="6"/>
<rect x="1423" y="1446" width="8" height="6"/>
<rect x="1483" y="1446" width="8" height="6"/>
<rect x="1543" y="1446" width="8" height="6"/>
<rect x="1602" y="1446" width="8" height="6"/>
<rect x="1662" y="1446" width="8" height="6"/>
<rect x="1722" y="1446" width="8" height="6"/>
<rect x="1782" y="1446" width="8" height="6"/>
<rect x="1841" y="1446" width="9" height="12"/>
<rect x="1901" y="1446" width="8" height="6"/>
<rect x="1961" y="1446" width="8" height="6"/>
<rect x="2021" y="1446" width="8" height="6"/>
<rect x="2080" y="1446" width="8" height="6"/>
<rect x="2140" y="1446" width="8" height="6"/>
</g>
<path fill="#0000C6" d="M1999 243.5l7.5 -7.5h1l7.5 7.5v1l-7.5 7.5h-1z"/>
<path fill="#00809A" d="M2016 653l8 15h-16z"/>
<circle cx="2037" cy="1052" r="8" fill="#F00064"/>
</svg>
<div class="t b" style="left:16.3px;top:1453.3px;font-size:72px;transform:scaleX(0.9514)">10</div>
<div class="t b" style="left:612.2px;top:1453.3px;font-size:72px;transform:scaleX(0.9567)">20</div>
<div class="t b" style="left:1211.25px;top:1453.3px;font-size:72px;transform:scaleX(0.9413)">30</div>
<div class="t b" style="left:1807.94px;top:1453.3px;font-size:72px;transform:scaleX(0.9631)">40</div>
<div class="t b c" style="left:757.85px;top:1576.3px;font-size:73.5px;transform:scaleX(0.9878)">Ct values of <span class="k">N</span> gene</div>
<div class="t c" style="left:2063.05px;top:193.25px;font-size:75px;transform:scaleX(0.9634)">Sansure</div>
<div class="t c" style="left:2070.85px;top:617.6px;font-size:75px;transform:scaleX(0.9263)">Allplex</div>
<div class="t" style="left:2277.89px;top:591.6px;font-size:57.5px;transform:scaleX(0.9705)">TM</div>
<div class="t c" style="left:2091.5px;top:1001.05px;font-size:75px;transform:scaleX(0.9323)">Aridia</div>
</body>
</html>
